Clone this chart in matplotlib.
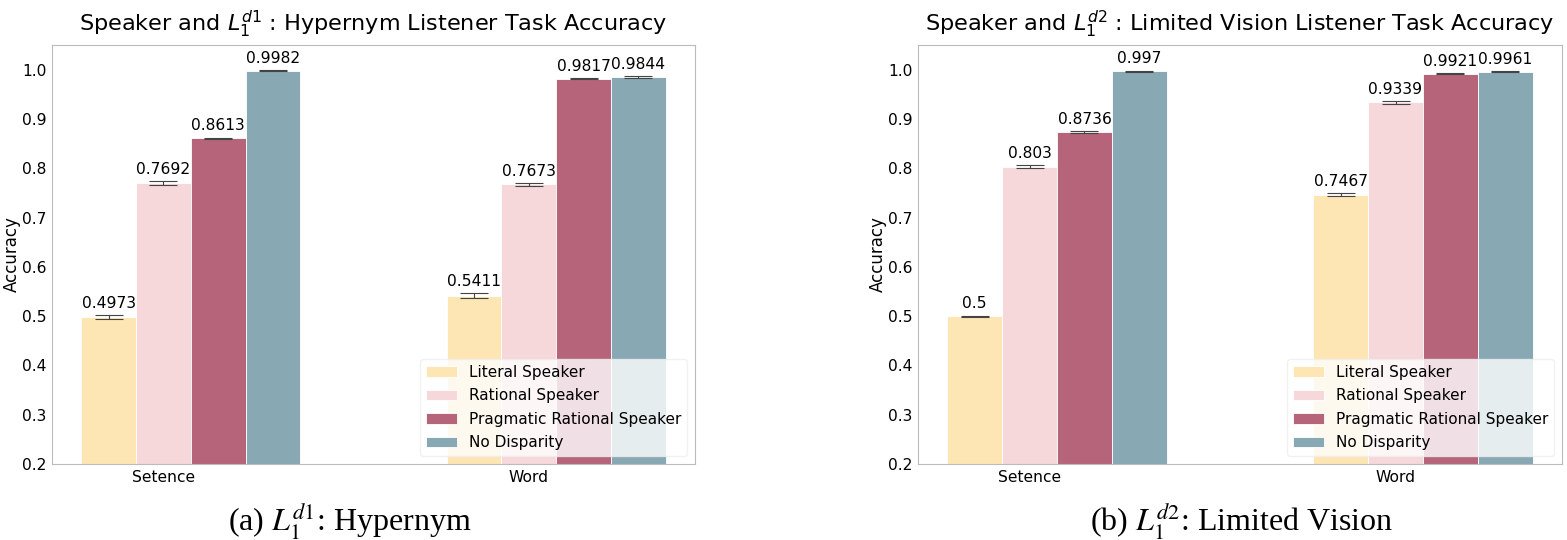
import matplotlib
matplotlib.use("Agg")
import matplotlib.pyplot as plt
import numpy as np

# categories and series
groups = ['Setence', 'Word']
speakers = ['Literal Speaker', 'Rational Speaker', 'Pragmatic Rational Speaker', 'No Disparity']
colors = ['#fde6b3', '#f6d7da', '#b5647a', '#88a8b3']

# hypernym listener (d1)
hyp_literal = [0.4973, 0.5411]
hyp_rational = [0.7692, 0.7673]
hyp_pragmatic = [0.8613, 0.9817]
hyp_nodisp = [0.9982, 0.9844]
hyp_err = [[0.004, 0.005], [0.004, 0.003], [0.001, 0.001], [0.001, 0.002]]

# limited vision listener (d2)
vis_literal = [0.5, 0.7467]
vis_rational = [0.803, 0.9339]
vis_pragmatic = [0.8736, 0.9921]
vis_nodisp = [0.997, 0.9961]
vis_err = [[0.001, 0.003], [0.003, 0.003], [0.002, 0.001], [0.001, 0.001]]

plt.rcParams['font.family'] = ['DejaVu Sans']
plt.rcParams['mathtext.fontset'] = 'dejavusans'

fig = plt.figure(figsize=(15.67, 5.4), dpi=100)
W, H = 1567, 540
ax1 = fig.add_axes([52 / W, 76 / H, 643 / W, 419 / H])
ax2 = fig.add_axes([918 / W, 76 / H, 644 / W, 419 / H])


def draw(ax, series, errs, title):
    x = np.arange(len(groups))
    width = 0.15
    for i, (vals, err) in enumerate(zip(series, errs)):
        bars = ax.bar(x + (i - 1) * width, vals, width, yerr=err, color=colors[i],
                      edgecolor='white', linewidth=0.6, label=speakers[i],
                      error_kw=dict(ecolor='#444444', elinewidth=0.8, capsize=10, capthick=0.8))
        ax.bar_label(bars, labels=[f'{v:g}' for v in vals], padding=3, fontsize=11.2)
    ax.set_ylim(0.2, 1.05)
    ax.set_xticks(x)
    ax.set_xticklabels(groups)
    ax.set_ylabel('Accuracy', fontsize=12, labelpad=1)
    ax.set_title(title, fontsize=16.1, pad=10)
    ax.tick_params(axis='both', length=0, labelsize=11.2, pad=4)
    for s in ax.spines.values():
        s.set_color('#bbbbbb')
    ax.legend(loc='lower right', fontsize=11, labelspacing=0.55, framealpha=0.8, edgecolor='#eeeeee')


draw(ax1, [hyp_literal, hyp_rational, hyp_pragmatic, hyp_nodisp], hyp_err,
     r'Speaker and $L_1^{d1}$ : Hypernym Listener Task Accuracy')
draw(ax2, [vis_literal, vis_rational, vis_pragmatic, vis_nodisp], vis_err,
     r'Speaker and $L_1^{d2}$ : Limited Vision Listener Task Accuracy')

# sub-figure captions
cap = dict(fontsize=23, family='Liberation Serif', ha='center', va='baseline')
fig.text(350 / W, 1 - 532 / H, r'(a) $L_1^{d1}$: Hypernym', math_fontfamily='stix', **cap)
fig.text(1242 / W, 1 - 532 / H, r'(b) $L_1^{d2}$: Limited Vision', math_fontfamily='stix', **cap)

fig.savefig('out.png', dpi=100)
